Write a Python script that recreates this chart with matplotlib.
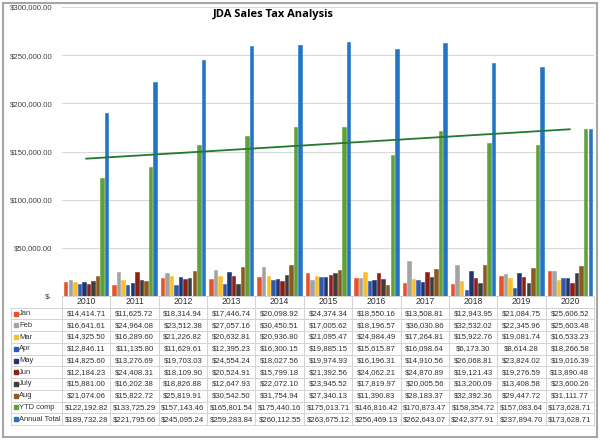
import numpy as np
import matplotlib
matplotlib.use("Agg")
import matplotlib.pyplot as plt
from matplotlib.patches import Rectangle

plt.rcParams['font.family'] = ['Liberation Sans', 'DejaVu Sans']

years = ['2010', '2011', '2012', '2013', '2014', '2015', '2016', '2017', '2018', '2019', '2020']
series_names = ['Jan', 'Feb', 'Mar', 'Apr', 'May', 'Jun', 'July', 'Aug', 'YTD comp', 'Annual Total']

jan = [14414.71, 11625.72, 18314.94, 17446.74, 20098.92, 24374.34, 18550.16, 13508.81, 12943.95, 21084.75, 25606.52]
feb = [16641.61, 24964.08, 23512.38, 27057.16, 30450.51, 17005.62, 18196.57, 36030.86, 32532.02, 22345.96, 25603.48]
mar = [14325.50, 16289.60, 21226.82, 20632.81, 20936.80, 21095.47, 24984.49, 17264.81, 15922.76, 19081.74, 16533.23]
apr = [12846.11, 11135.80, 11629.61, 12395.23, 16300.15, 19885.15, 15615.87, 16098.64, 6173.30, 8614.28, 18266.58]
may = [14825.60, 13276.69, 19703.03, 24554.24, 18027.56, 19974.93, 16196.31, 14910.56, 26068.81, 23824.02, 19016.39]
jun = [12184.23, 24408.31, 18109.90, 20524.91, 15799.18, 21392.56, 24062.21, 24870.89, 19121.43, 19276.59, 13890.48]
july = [15881.00, 16202.38, 18826.88, 12647.93, 22072.10, 23945.52, 17819.97, 20005.56, 13200.09, 13408.58, 23600.26]
aug = [21074.06, 15822.72, 25819.91, 30542.50, 31754.94, 27340.13, 11390.83, 28183.37, 32392.36, 29447.72, 31111.77]
ytd_comp = [122192.82, 133725.29, 157143.46, 165801.54, 175440.16, 175013.71, 146816.42, 170873.47, 158354.72, 157083.64, 173628.71]
annual_total = [189732.28, 221795.66, 245095.24, 259283.84, 260112.55, 263675.12, 256469.13, 262643.07, 242377.91, 237894.70, 173628.71]

series = [jan, feb, mar, apr, may, jun, july, aug, ytd_comp, annual_total]
colors = ['#E8522A', '#A3A3A3', '#F7C02A', '#2F58B0', '#1F3571', '#8E1F17',
          '#3D3D3D', '#8A5A1F', '#5FA03C', '#2474C4']

fig = plt.figure(figsize=(6, 4.4), dpi=100)
W, H = 600, 440
ax = fig.add_axes([62 / W, 1 - 296 / H, 532 / W, 289 / H])

x = np.arange(len(years))
slot = 0.094
bar_w = 0.07
for i, (vals, c) in enumerate(zip(series, colors)):
    off = (i - (len(series) - 1) / 2) * slot
    ax.bar(x + off, vals, width=bar_w, color=c, edgecolor=c, linewidth=0.4, zorder=3)

# linear trendline of YTD comp
coef = np.polyfit(x, ytd_comp, 1)
ax.plot(x, np.polyval(coef, x), color='#217A2E', linewidth=1.3, zorder=4)

ax.set_xlim(-0.5, len(years) - 0.5)
ax.set_ylim(0, 300000)
ax.set_yticks(np.arange(0, 300001, 50000))
ax.set_yticklabels(['$-'] + ['${:,.2f}'.format(v) for v in np.arange(50000, 300001, 50000)],
                   fontsize=5.6, color='#404040')
ax.set_xticks([])
ax.tick_params(axis='y', length=0, pad=7)
ax.grid(axis='y', color='#D9D9D9', linewidth=0.8, zorder=0)
for s in ax.spines.values():
    s.set_visible(False)

# data table under the plot
cell_text = [[''] + years]
for vals in series:
    cell_text.append([''] + ['${:,.2f}'.format(v) for v in vals])

tbl_left_px = 11
label_w = 62 - tbl_left_px
col_w = 532 / len(years)
widths = [label_w] + [col_w] * len(years)
tot_w = sum(widths)
tbl_h = 129 / 289
tbl = ax.table(cellText=cell_text, colWidths=[w / tot_w for w in widths],
               bbox=[(tbl_left_px - 62) / 532, -tbl_h, tot_w / 532, tbl_h], cellLoc='center')
tbl.auto_set_font_size(False)
tbl.set_fontsize(5.6)
for (r, c), cell in tbl.get_celld().items():
    cell.set_edgecolor('#D4D4D4')
    cell.set_linewidth(0.7)
    cell.get_text().set_color('#303030')
    if r == 0 and c == 0:
        cell.visible_edges = ''
    if r == 0:
        cell.get_text().set_fontsize(6.2)

# row labels with legend keys
row_h = tbl_h / len(cell_text)
for i, (name, c) in enumerate(zip(series_names, colors)):
    yc = -(i + 1.5) * row_h
    ax.plot([(15.5 - 62) / 532], [yc], marker='s', markersize=3.3, color=c,
            transform=ax.transAxes, clip_on=False)
    ax.text((19 - 62) / 532, yc, name, transform=ax.transAxes, ha='left', va='center',
            fontsize=5.4, color='#303030')

fig.text(273 / W, 1 - 15 / H, 'JDA Sales Tax Analysis', ha='center', va='center',
         fontsize=8, fontweight='bold', family=['Open Sans', 'DejaVu Sans'])

fig.patches.append(Rectangle((3 / W, 3 / H), 594 / W, 434 / H, transform=fig.transFigure,
                             fill=False, edgecolor='#A6A6A6', linewidth=1.5))

fig.savefig('out.png', dpi=100)
